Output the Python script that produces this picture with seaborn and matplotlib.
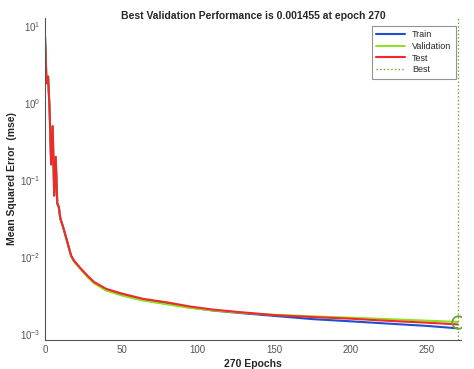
import numpy as np
import pandas as pd
import matplotlib
matplotlib.use("Agg")
import matplotlib.pyplot as plt
import seaborn as sns

# values (mse per epoch)
epochs = [0, 1, 2, 3, 4, 5, 6, 7, 8, 9, 10, 12, 14, 17, 19, 23, 28, 32, 40,
          50, 64, 80, 95, 110, 127, 150, 175, 200, 225, 250, 270]
train = [7.1, 1.8, 2.2, 0.8, 0.16, 0.5, 0.063, 0.2, 0.05, 0.045, 0.032,
         0.024, 0.0174, 0.0105, 0.0089, 0.0072, 0.0056, 0.0047, 0.0038,
         0.0033, 0.0028, 0.0025, 0.00224, 0.00204, 0.0019, 0.00174, 0.00158,
         0.00148, 0.00138, 0.00129, 0.0012]
validation = [7.1, 1.8, 2.2, 0.8, 0.16, 0.5, 0.063, 0.2, 0.05, 0.045, 0.032,
              0.024, 0.0174, 0.0104, 0.0088, 0.0071, 0.0055, 0.0046, 0.0037,
              0.0032, 0.00275, 0.00245, 0.0022, 0.00205, 0.00192, 0.0018, 0.00172,
              0.00165, 0.00158, 0.00151, 0.001455]
test = [7.1, 1.8, 2.2, 0.8, 0.16, 0.5, 0.063, 0.2, 0.05, 0.045, 0.032,
        0.024, 0.0174, 0.0106, 0.009, 0.0073, 0.0057, 0.0048, 0.0039,
        0.0034, 0.0029, 0.0026, 0.0023, 0.0021, 0.00195, 0.00178, 0.00168,
        0.0016, 0.0015, 0.00142, 0.00135]
best_epoch = 270
best_perf = 0.001455
xticks = [0, 50, 100, 150, 200, 250]

sns.set_style("white")
plt.rcParams["font.family"] = ["Liberation Sans", "DejaVu Sans"]

df = pd.DataFrame({"epoch": epochs, "Train": train,
                   "Validation": validation, "Test": test})

fig = plt.figure(figsize=(4.74, 3.69), dpi=100)
ax = fig.add_axes([0.095, 0.079, 0.877, 0.872])

sns.lineplot(data=df, x="epoch", y="Train", ax=ax, color="#1f4fd0", lw=1.5, label="Train")
sns.lineplot(data=df, x="epoch", y="Validation", ax=ax, color="#8fe01c", lw=1.4, label="Validation")
sns.lineplot(data=df, x="epoch", y="Test", ax=ax, color="#f02a2a", lw=1.5, label="Test")
ax.axvline(best_epoch, color="#6aa827", ls=":", lw=1.0, label="Best")
ax.plot([best_epoch], [best_perf], "o", ms=9, mfc="none", mec="#6aa827", mew=1.3)

ax.set_yscale("log")
ax.set_xlim(0, 272)
ax.set_ylim(10 ** -3.07, 10 ** 1.1)
ax.set_xticks(xticks)
ax.set_yticks([1e-3, 1e-2, 1e-1, 1e0, 1e1])
ax.tick_params(direction="in", labelsize=7, colors="#555555", length=4)
ax.tick_params(which="minor", direction="in", length=2, colors="#555555")
for s in ["top", "right"]:
    ax.spines[s].set_visible(False)
for s in ["left", "bottom"]:
    ax.spines[s].set_color("#555555")

ax.set_title("Best Validation Performance is 0.001455 at epoch 270",
             fontsize=7.5, fontweight="bold", pad=-1)
ax.set_xlabel("270 Epochs", fontsize=7.5, fontweight="bold", labelpad=3)
ax.set_ylabel("Mean Squared Error  (mse)", fontsize=7.5, fontweight="bold", labelpad=2)

leg = ax.legend(loc="upper right", bbox_to_anchor=(0.995, 0.985), fontsize=6.5,
                frameon=True, fancybox=False, handlelength=3.2, borderpad=0.5,
                labelspacing=0.3, borderaxespad=0.3)
leg.get_frame().set_edgecolor("#777777")
leg.get_frame().set_linewidth(0.8)

fig.savefig("out.png", dpi=100)
